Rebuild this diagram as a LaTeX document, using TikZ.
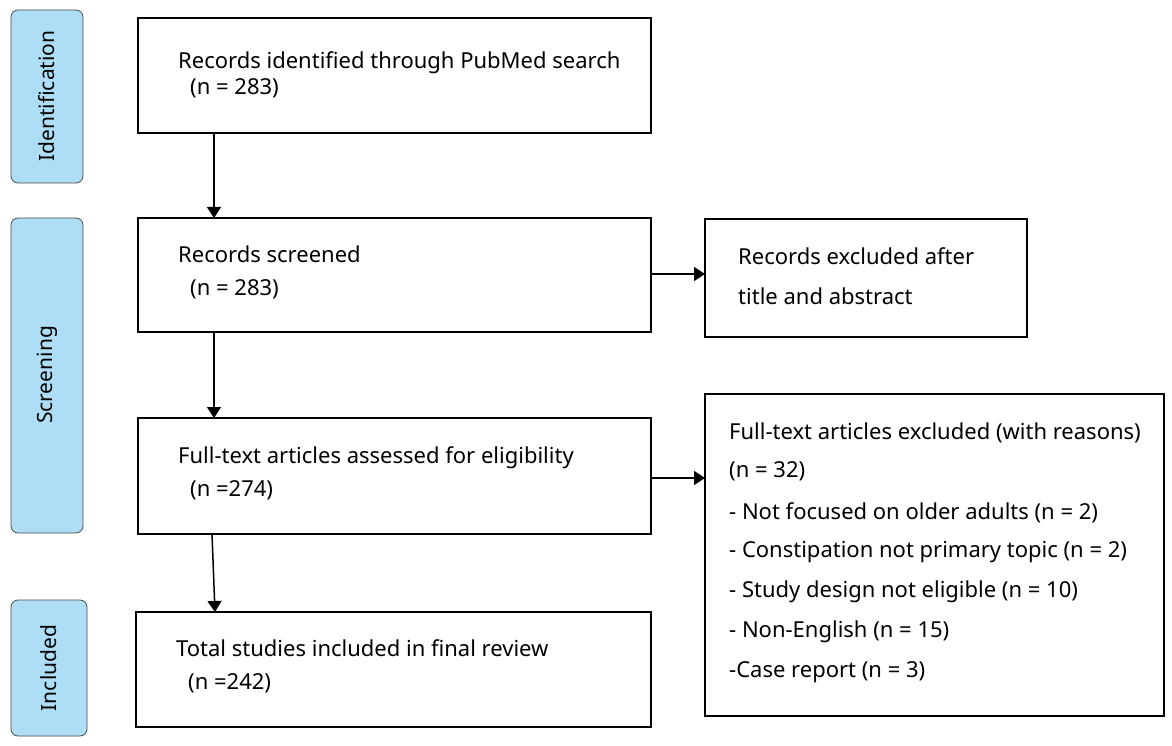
\documentclass[tikz,border=0pt]{standalone}
\usepackage{fontspec}
\setmainfont{Noto Sans}
\usetikzlibrary{arrows.meta,calc}
\begin{document}
\begin{tikzpicture}[x=1pt,y=-1pt,
  box/.style={draw=black,line width=1.3pt,inner sep=0pt},
  side/.style={draw=black!70,fill=sideblue,rounded corners=7pt,line width=0.8pt},
  txt/.style={anchor=base west,font=\fontsize{22}{24}\selectfont,inner sep=0pt},
  stxt/.style={rotate=90,font=\fontsize{21}{22}\selectfont},
  arr/.style={line width=1.5pt,-{Triangle[width=14pt,length=11pt]}}]
\definecolor{sideblue}{RGB}{173,222,245}
\useasboundingbox (0,0) rectangle (1172,746);
\fill[white] (0,0) rectangle (1172,746);
% side labels
\draw[side] (11,10) rectangle (83,183);
\node[stxt] (s1) at (47,96) {Identification};
\draw[side] (11,218) rectangle (83,533);
\node[stxt] (s2) at (47,375) {Screening};
\draw[side] (11,600) rectangle (87,736);
\node[stxt] (s3) at (49,668) {Included};
% boxes
\draw[box] (138,18) rectangle (651,133);
\draw[box] (138,218) rectangle (651,332);
\draw[box] (138,418) rectangle (651,534);
\draw[box] (136,612) rectangle (651,727);
\draw[box] (705,219) rectangle (1027,337);
\draw[box] (705,394) rectangle (1164,716);
% texts
\node[txt] (t1) at (178,69) {Records identified through PubMed search};
\node[txt] (t1n) at (190,95) {(n = 283)};
\node[txt] (t2) at (178,262) {Records screened};
\node[txt] (t2n) at (190,295) {(n = 283)};
\node[txt] (t3) at (178,463) {Full-text articles assessed for eligibility};
\node[txt] (t3n) at (190,496) {(n =274)};
\node[txt] (t4) at (176,656) {Total studies included in final review};
\node[txt] (t4n) at (188,689) {(n =242)};
\node[txt] (r1) at (738,264) {Records excluded after};
\node[txt] (r1b) at (738,304) {title and abstract};
\node[txt] (r2) at (729,439) {Full-text articles excluded (with reasons)};
\node[txt] (r2b) at (729,477) {(n = 32)};
\node[txt] at (729,519) {- Not focused on older adults (n = 2)};
\node[txt] at (729,557) {- Constipation not primary topic (n = 2)};
\node[txt] at (729,597) {- Study design not eligible (n = 10)};
\node[txt] at (729,637) {- Non-English (n = 15)};
\node[txt] at (729,677) {-Case report (n = 3)};
% connectors
\coordinate (a1) at (214,133); \coordinate (a1e) at (214,218);
\coordinate (a2) at (214,332); \coordinate (a2e) at (214,418);
\coordinate (a3) at (212,534); \coordinate (a3e) at (215,612);
\coordinate (h1) at (651,274); \coordinate (h1e) at (705,274);
\coordinate (h2) at (651,478); \coordinate (h2e) at (705,478);
\draw[arr] (a1) -- (a1e);
\draw[arr] (a2) -- (a2e);
\draw[arr] (a3) -- (a3e);
\draw[arr] (h1) -- (h1e);
\draw[arr] (h2) -- (h2e);
\end{tikzpicture}
\end{document}
